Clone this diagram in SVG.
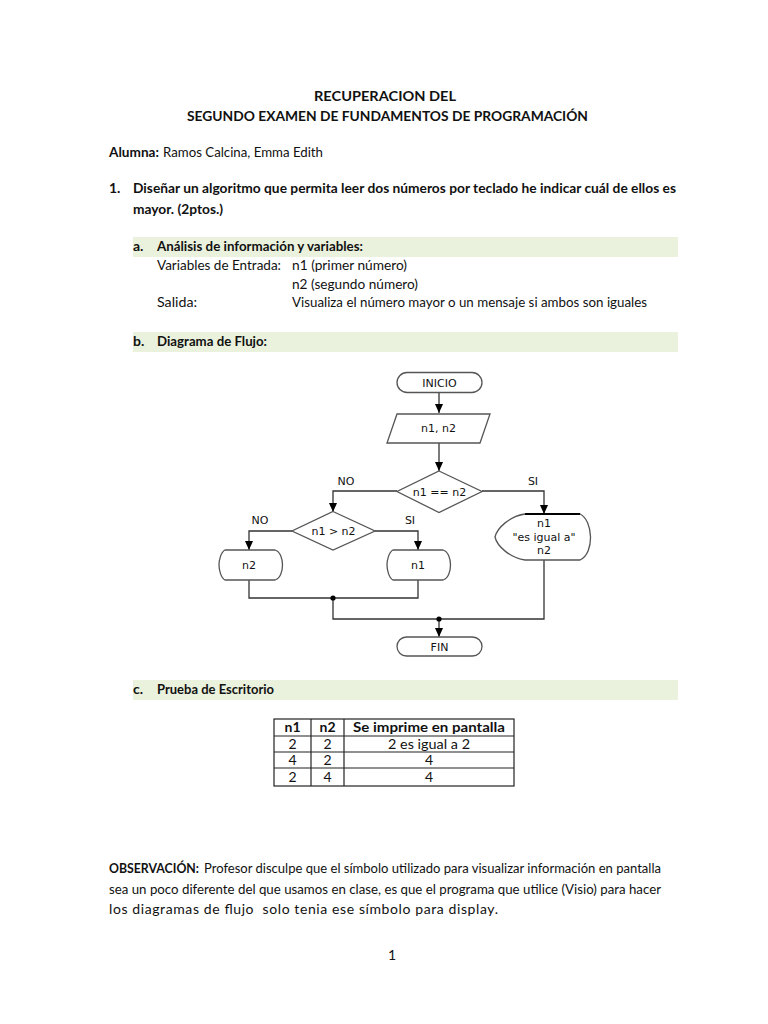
<svg xmlns="http://www.w3.org/2000/svg" width="768" height="1024" viewBox="0 0 768 1024">
<defs>
<style>
.t{font-family:Lato,"Liberation Sans",sans-serif;font-size:14px;fill:#111}
.s{font-size:13.5px}
.b{font-weight:bold}
.c{text-anchor:middle}
.band{fill:#eaf1dd}
.fc{font-family:"DejaVu Sans","Liberation Sans",sans-serif;font-size:11px;fill:#111;text-anchor:middle}
.shape{fill:#fff;stroke:#555;stroke-width:1.3}
.con{fill:none;stroke:#333;stroke-width:1.3}
.tbl{fill:none;stroke:#222;stroke-width:1.2}
</style>
<marker id="ah" markerUnits="userSpaceOnUse" markerWidth="10" markerHeight="10" refX="9" refY="5" orient="auto">
<path d="M0,1 L9,5 L0,9 Z" fill="#000"/>
</marker>
</defs>
<rect width="768" height="1024" fill="#fff"/>

<g id="header">
<text class="t b c" x="385" y="101" textLength="142" lengthAdjust="spacingAndGlyphs">RECUPERACION DEL</text>
<text class="t b c" x="387.5" y="121" textLength="401" lengthAdjust="spacingAndGlyphs">SEGUNDO EXAMEN DE FUNDAMENTOS DE PROGRAMACIÓN</text>
<text class="t b" x="109" y="157" textLength="50" lengthAdjust="spacingAndGlyphs">Alumna:</text>
<text class="t" x="163" y="157" textLength="160" lengthAdjust="spacingAndGlyphs">Ramos Calcina, Emma Edith</text>
<text class="t b" x="109" y="193">1.</text>
<text class="t b" x="133" y="193" textLength="543" lengthAdjust="spacingAndGlyphs">Diseñar un algoritmo que permita leer dos números por teclado he indicar cuál de ellos es</text>
<text class="t b" x="133" y="214" textLength="90" lengthAdjust="spacingAndGlyphs">mayor. (2ptos.)</text>
</g>

<g id="section-a">
<rect class="band" x="133" y="237" width="545" height="20"/>
<text class="t b" x="133" y="251">a.</text>
<text class="t b" x="157" y="251" textLength="206" lengthAdjust="spacingAndGlyphs">Análisis de información y variables:</text>
<text class="t" x="157" y="270" textLength="124" lengthAdjust="spacingAndGlyphs">Variables de Entrada:</text>
<text class="t" x="292" y="270" textLength="115" lengthAdjust="spacingAndGlyphs">n1 (primer número)</text>
<text class="t" x="292" y="289" textLength="126" lengthAdjust="spacingAndGlyphs">n2 (segundo número)</text>
<text class="t" x="157" y="307" textLength="40" lengthAdjust="spacingAndGlyphs">Salida:</text>
<text class="t" x="292" y="307" textLength="355" lengthAdjust="spacingAndGlyphs">Visualiza el número mayor o un mensaje si ambos son iguales</text>
</g>

<g id="section-b">
<rect class="band" x="133" y="332" width="545" height="20"/>
<text class="t b" x="133" y="346">b.</text>
<text class="t b" x="157" y="346" textLength="110" lengthAdjust="spacingAndGlyphs">Diagrama de Flujo:</text>
</g>

<g id="connectors">
<path class="con" d="M439,392 V413" marker-end="url(#ah)"/>
<path class="con" d="M439,443 V471" marker-end="url(#ah)"/>
<path class="con" d="M397,491 H333 V512" marker-end="url(#ah)"/>
<path class="con" d="M482,491 H544 V514" marker-end="url(#ah)"/>
<path class="con" d="M292,531 H249 V550" marker-end="url(#ah)"/>
<path class="con" d="M375,531 H418 V550" marker-end="url(#ah)"/>
<path class="con" d="M249,580 V598 H418 V580"/>
<path class="con" d="M333,598 V619 H544 V560"/>
<path class="con" d="M439,619 V637" marker-end="url(#ah)"/>
<circle cx="333" cy="598" r="2.6" fill="#000"/>
<circle cx="439" cy="619" r="2.6" fill="#000"/>
<text class="fc" x="346" y="485">NO</text>
<text class="fc" x="533" y="485">SI</text>
<text class="fc" x="260" y="524">NO</text>
<text class="fc" x="410" y="524">SI</text>
</g>

<g id="inicio">
<rect class="shape" x="397" y="372.5" width="85" height="20" rx="10"/>
<text class="fc" x="439.5" y="386.5">INICIO</text>
</g>
<g id="input">
<path class="shape" d="M397,414 H490 L480,443 H387 Z"/>
<text class="fc" x="438.5" y="432">n1, n2</text>
</g>
<g id="cond-eq">
<path class="shape" d="M439,471 L482,491.5 L439,512.5 L397,491.5 Z"/>
<text class="fc" x="439.5" y="495.5">n1 == n2</text>
</g>
<g id="cond-gt">
<path class="shape" d="M333,511.5 L375,531 L333,550 L292,531 Z"/>
<text class="fc" x="333.5" y="535">n1 &gt; n2</text>
</g>
<g id="out-n2">
<path class="shape" d="M225,550 H275 C285,553 285,577 275,580 H225 C221,578 219,570 219,565 C219,560 221,552 225,550 Z"/>
<text class="fc" x="249" y="569">n2</text>
</g>
<g id="out-n1">
<path class="shape" d="M393,550 H443 C453,553 453,577 443,580 H393 C389,578 387,570 387,565 C387,560 389,552 393,550 Z"/>
<text class="fc" x="418" y="569">n1</text>
</g>
<g id="out-eq">
<path class="shape" d="M525,514 H580 C593,520 595,553 580,560 H525 C510,558 497,546 495,537 C497,528 510,516 525,514 Z"/>
<line x1="525" y1="514" x2="580" y2="514" stroke="#000" stroke-width="2"/>
<text class="fc" x="544" y="527">n1</text>
<text class="fc" x="544" y="541">"es igual a"</text>
<text class="fc" x="544" y="554">n2</text>
</g>
<g id="fin">
<rect class="shape" x="397" y="637" width="85" height="19" rx="9.5"/>
<text class="fc" x="439.5" y="650.5">FIN</text>
</g>

<g id="section-c">
<rect class="band" x="133" y="680" width="545" height="20"/>
<text class="t b" x="133" y="694">c.</text>
<text class="t b" x="157" y="694" textLength="117" lengthAdjust="spacingAndGlyphs">Prueba de Escritorio</text>
</g>

<g id="table">
<rect class="tbl" x="274" y="719" width="240" height="67"/>
<line class="tbl" x1="311" y1="719" x2="311" y2="786"/>
<line class="tbl" x1="344" y1="719" x2="344" y2="786"/>
<line class="tbl" x1="274" y1="736" x2="514" y2="736"/>
<line class="tbl" x1="274" y1="752" x2="514" y2="752"/>
<line class="tbl" x1="274" y1="768" x2="514" y2="768"/>
<text class="t b c" x="292.5" y="732">n1</text>
<text class="t b c" x="327.5" y="732">n2</text>
<text class="t b c" x="429" y="732" textLength="152" lengthAdjust="spacingAndGlyphs">Se imprime en pantalla</text>
<text class="t c" x="292.5" y="748.5">2</text>
<text class="t c" x="327.5" y="748.5">2</text>
<text class="t c" x="429" y="748.5" textLength="82" lengthAdjust="spacingAndGlyphs">2 es igual a 2</text>
<text class="t c" x="292.5" y="764.5">4</text>
<text class="t c" x="327.5" y="764.5">2</text>
<text class="t c" x="429" y="764.5">4</text>
<text class="t c" x="292.5" y="781.5">2</text>
<text class="t c" x="327.5" y="781.5">4</text>
<text class="t c" x="429" y="781.5">4</text>
</g>

<g id="observacion">
<text class="t s b" x="109" y="873" textLength="90" lengthAdjust="spacingAndGlyphs">OBSERVACIÓN:</text>
<text class="t s" x="204" y="873" textLength="457" lengthAdjust="spacingAndGlyphs">Profesor disculpe que el símbolo utilizado para visualizar información en pantalla</text>
<text class="t" x="109" y="894" textLength="552" lengthAdjust="spacingAndGlyphs">sea un poco diferente del que usamos en clase, es que el programa que utilice (Visio) para hacer</text>
<text class="t" x="109" y="914" textLength="389" lengthAdjust="spacing" xml:space="preserve">los diagramas de flujo  solo tenia ese símbolo para display.</text>
<text class="t c" x="392" y="960">1</text>
</g>
</svg>
